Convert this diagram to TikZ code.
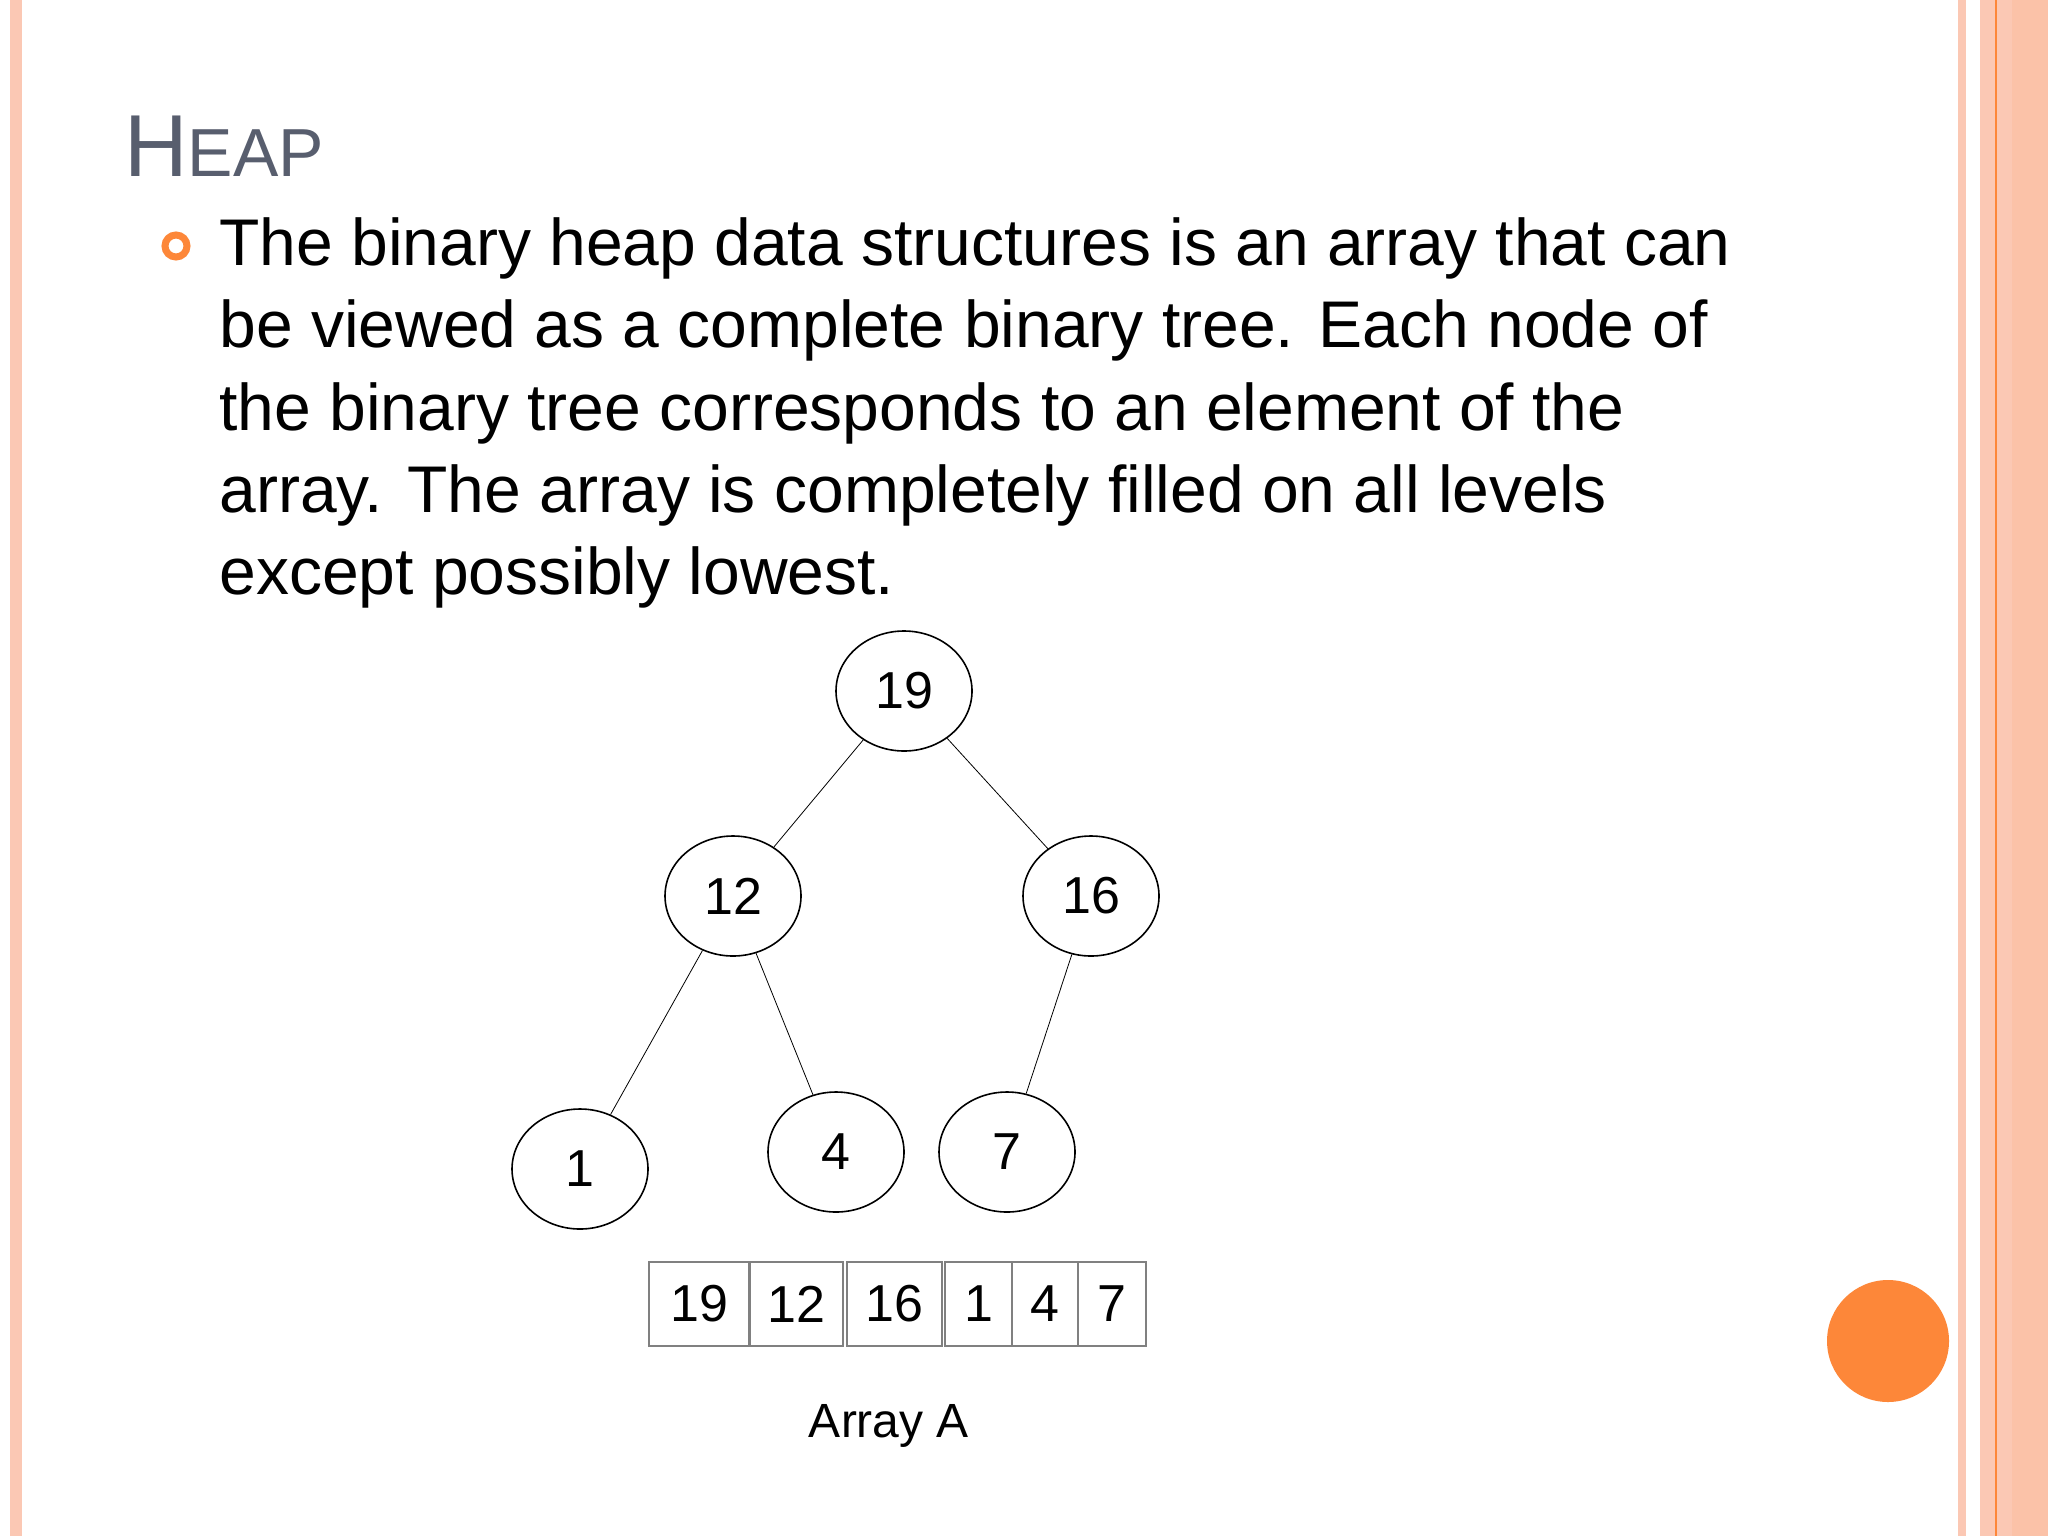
\documentclass[tikz,border=0pt]{standalone}
\usepackage{fontspec}
\setmainfont{Liberation Sans}
\usetikzlibrary{shapes.geometric}
\definecolor{pinkb}{RGB}{251,200,180}
\definecolor{orng}{RGB}{253,135,57}
\definecolor{ttl}{RGB}{88,94,110}
\tikzset{
 tnode/.style={ellipse,draw,thick,minimum width=68pt,minimum height=60pt,inner sep=0pt,font=\fontsize{26}{26}\selectfont},
 cell/.style={draw=gray,thick,minimum height=42pt,inner sep=0pt,font=\fontsize{26}{26}\selectfont},
 bl/.style={anchor=base west,inner sep=0pt,font=\fontsize{33}{33}\selectfont}
}
\begin{document}
\begin{tikzpicture}[x=0.5pt,y=-0.5pt]
\useasboundingbox (0,0) rectangle (2048,1536);
\fill[white] (0,0) rectangle (2048,1536);
% borders
\fill[pinkb] (10,0) rectangle (22,1536);
\fill[pinkb] (1958,0) rectangle (1966,1536);
\fill[pinkb] (1980,0) rectangle (2048,1536);
\fill[pinkb!90!orng] (2012,0) rectangle (2048,1536);
\fill[orng] (1995,0) rectangle (1997,1536);
% title
\node[anchor=base west,inner sep=0pt,text=ttl,font=\fontsize{44}{44}\selectfont] (title) at (124,176) {H\fontsize{34}{34}\selectfont EAP};
% bullet
\draw[orng,line width=3.5pt] (176,246) circle (11);
\node[bl] (l1) at (219,265) {The binary heap data structures is an array that can};
\node[bl] (l2) at (219,347) {be viewed as a complete binary tree. Each node of};
\node[bl] (l3) at (219,430) {the binary tree corresponds to an element of the};
\node[bl] (l4) at (219,512) {array. The array is completely filled on all levels};
\node[bl] (l5) at (219,594) {except possibly lowest.};
% tree
\node[tnode] (n19) at (904,691) {19};
\node[tnode] (n12) at (733,896) {12};
\node[tnode] (n16) at (1091,896) {16};
\node[tnode] (n1) at (580,1169) {1};
\node[tnode] (n4) at (836,1152) {4};
\node[tnode] (n7) at (1007,1152) {7};
\draw (n19) -- (n12);
\draw (n19) -- (n16);
\draw (n12) -- (n1);
\draw (n12) -- (n4);
\draw (n16) -- (n7);
% array
\node[cell,minimum width=50pt] (a1) at (699,1304) {19};
\node[cell,minimum width=46.5pt] (a2) at (796.5,1304) {12};
\node[cell,minimum width=47.5pt] (a3) at (894.5,1304) {16};
\node[cell,minimum width=33.5pt] (a4) at (978.5,1304) {1};
\node[cell,minimum width=33pt] (a5) at (1045,1304) {4};
\node[cell,minimum width=34pt] (a6) at (1112,1304) {7};
\node[font=\fontsize{24}{24}\selectfont] (lab) at (889,1426) {Array A};
% orange circle
\fill[orng] (1888,1341) circle (61);
\end{tikzpicture}
\end{document}
